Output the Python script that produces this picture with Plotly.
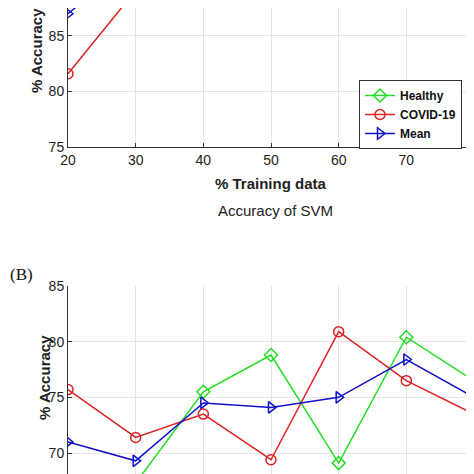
import plotly.graph_objects as go

x = [20, 30, 40, 50, 60, 70, 80]
# (A) top panel - mostly cropped above view
top_healthy = [93.0, 95.0, 96.0, 96.5, 97.0, 97.5, 98.0]
top_covid = [81.6, 89.1, 90.0, 91.0, 92.0, 93.0, 94.0]
top_mean = [87.0, 92.0, 93.0, 94.0, 94.5, 95.0, 96.0]
# (B) bottom panel
bot_healthy = [66.0, 67.3, 75.5, 78.8, 69.1, 80.4, 76.5]
bot_covid = [75.7, 71.4, 73.5, 69.4, 80.9, 76.5, 73.5]
bot_mean = [71.0, 69.3, 74.5, 74.1, 75.0, 78.4, 75.0]
names = ["Healthy", "COVID-19", "Mean"]
colors = ["#22dd22", "#dd2222", "#1111cc"]
symbols = ["diamond-open", "circle-open", "triangle-right-open"]

fig = go.Figure()
for i, ys in enumerate([top_healthy, top_covid, top_mean]):
    fig.add_trace(go.Scatter(x=x, y=ys, name=names[i], mode="lines+markers",
        line=dict(color=colors[i], width=1.5),
        marker=dict(symbol=symbols[i], size=10, color=colors[i], line=dict(width=1.5, color=colors[i])),
        xaxis="x", yaxis="y", cliponaxis=True))
for i, ys in enumerate([bot_healthy, bot_covid, bot_mean]):
    fig.add_trace(go.Scatter(x=x, y=ys, name=names[i], mode="lines+markers", showlegend=False,
        line=dict(color=colors[i], width=1.5),
        marker=dict(symbol=symbols[i], size=10, color=colors[i], line=dict(width=1.5, color=colors[i])),
        xaxis="x2", yaxis="y2", cliponaxis=True))

ax = dict(showgrid=True, gridcolor="#e4e4e4", showline=True, linecolor="#333", linewidth=1,
          ticks="inside", ticklen=4, tickcolor="#333", zeroline=False, automargin=False,
          tickfont=dict(family="Liberation Sans, Arial", size=14, color="#222"))
xd = [60/474, 466/474]
fig.update_layout(
    width=474, height=474, margin=dict(l=0, r=0, t=0, b=0, autoexpand=False),
    plot_bgcolor="white", paper_bgcolor="white", showlegend=True,
    xaxis=dict(**ax, domain=xd, range=[20, 80], dtick=10, anchor="y"),
    yaxis=dict(**ax, domain=[1-139/474, 1], range=[75, 87.52], dtick=5, anchor="x"),
    xaxis2=dict(**ax, domain=xd, range=[20, 80], dtick=10, anchor="y2", showticklabels=False),
    yaxis2=dict(**ax, domain=[0, 1-278/474], range=[67.4, 85], dtick=5, anchor="x2"),
    legend=dict(x=454/474, y=1-72/474, xanchor="right", yanchor="top", bgcolor="white",
                bordercolor="#333", borderwidth=1, tracegroupgap=0,
                font=dict(family="Liberation Sans, Arial", size=12, color="#111", weight="bold")),
    annotations=[
        dict(text="<b>% Training data</b>", x=263/474, y=1-175/474, xref="paper", yref="paper",
             showarrow=False, font=dict(family="Liberation Sans, Arial", size=15, color="#222")),
        dict(text="Accuracy of SVM", x=267/474, y=1-202/474, xref="paper", yref="paper",
             showarrow=False, font=dict(family="Liberation Sans, Arial", size=15, color="#222")),
        dict(text="(B)", x=0, y=1-266/474, xref="paper", yref="paper", xanchor="left",
             showarrow=False, font=dict(family="Liberation Serif, Times New Roman", size=17, color="#111")),
        dict(text="<b>% Accuracy</b>", x=26/474, y=1-414/474, xref="paper", yref="paper", textangle=-90,
             showarrow=False, font=dict(family="Liberation Sans, Arial", size=15, color="#222")),
        dict(text="<b>% Accuracy</b>", x=18/474, y=1+2/474, xref="paper", yref="paper", textangle=-90,
             showarrow=False, font=dict(family="Liberation Sans, Arial", size=15, color="#222")),
    ],
)
fig.write_html("out.html")
